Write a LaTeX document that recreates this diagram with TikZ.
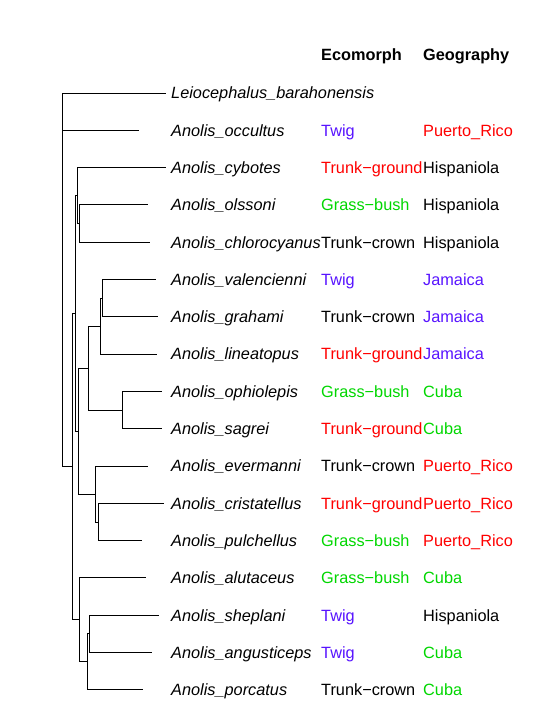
\documentclass[tikz,border=0pt]{standalone}
\usepackage{fontspec}
\setmainfont{Liberation Sans}
\usetikzlibrary{positioning}

\definecolor{twigblue}{RGB}{88,20,255}
\definecolor{ecored}{RGB}{255,0,0}
\definecolor{ecogreen}{RGB}{0,215,0}

\begin{document}
\begin{tikzpicture}[x=1pt, y=-1pt,
  branch/.style={line width=0.9pt, black},
  taxon/.style={anchor=west, inner sep=0pt, text height=11.6pt, text depth=0pt,
    font=\fontsize{16.3}{19}\selectfont\itshape},
  trait/.style={anchor=west, inner sep=0pt, text height=11.6pt, text depth=0pt,
    font=\fontsize{16.3}{19}\selectfont},
  colhead/.style={trait, font=\fontsize{16.3}{19}\selectfont\bfseries},
]
\fill[white] (0,0) rectangle (546,720);
\useasboundingbox (0,0) rectangle (546,720);

%--- Column heads ---
\node[colhead] (heco) at (321,55) {Ecomorph};
\node[colhead] (hgeo) at (423,55) {Geography};

%--- Tips of the tree ---
\coordinate (leio) at (166.0, 93.0);
\coordinate (occ)  at (139.0,130.3);
\coordinate (cyb)  at (166.0,167.6);
\coordinate (ols)  at (147.7,204.9);
\coordinate (chl)  at (150.0,242.2);
\coordinate (val)  at (155.7,279.5);
\coordinate (gra)  at (158.3,316.8);
\coordinate (lin)  at (156.7,354.1);
\coordinate (oph)  at (161.7,391.4);
\coordinate (sag)  at (161.7,428.7);
\coordinate (eve)  at (147.7,466.0);
\coordinate (cri)  at (164.0,503.3);
\coordinate (pul)  at (142.3,540.6);
\coordinate (alu)  at (145.7,577.9);
\coordinate (she)  at (159.0,615.2);
\coordinate (ang)  at (151.7,652.5);
\coordinate (por)  at (143.3,689.8);

%--- Inner nodes ---
\coordinate (root) at (62.3,279.8);
\coordinate (na)   at (72.3,466.6);
\coordinate (nb)   at (75.0,313.3);
\coordinate (nh)   at (77.3,195.6);
\coordinate (nh2)  at (79.0,223.6);
\coordinate (nd)   at (78.3,431.0);
\coordinate (ne)   at (88.3,368.1);
\coordinate (nj)   at (100.0,326.1);
\coordinate (nj2)  at (102.3,298.2);
\coordinate (ncu)  at (122.7,410.1);
\coordinate (np)   at (95.0,494.0);
\coordinate (np2)  at (98.3,522.0);
\coordinate (nc)   at (79.3,619.9);
\coordinate (nc2)  at (87.3,661.8);
\coordinate (nc3)  at (89.0,633.9);

%--- Branches ---
\draw[branch] (root) |- (leio);
\draw[branch] (root) |- (occ);
\draw[branch] (root) |- (na);
\draw[branch] (na) |- (nb);
\draw[branch] (na) |- (nc);
\draw[branch] (nb) |- (nh);
\draw[branch] (nb) |- (nd);
\draw[branch] (nh) |- (cyb);
\draw[branch] (nh) |- (nh2);
\draw[branch] (nh2) |- (ols);
\draw[branch] (nh2) |- (chl);
\draw[branch] (nd) |- (ne);
\draw[branch] (nd) |- (np);
\draw[branch] (ne) |- (nj);
\draw[branch] (ne) |- (ncu);
\draw[branch] (nj) |- (nj2);
\draw[branch] (nj) |- (lin);
\draw[branch] (nj2) |- (val);
\draw[branch] (nj2) |- (gra);
\draw[branch] (ncu) |- (oph);
\draw[branch] (ncu) |- (sag);
\draw[branch] (np) |- (eve);
\draw[branch] (np) |- (np2);
\draw[branch] (np2) |- (cri);
\draw[branch] (np2) |- (pul);
\draw[branch] (nc) |- (alu);
\draw[branch] (nc) |- (nc2);
\draw[branch] (nc2) |- (nc3);
\draw[branch] (nc2) |- (por);
\draw[branch] (nc3) |- (she);
\draw[branch] (nc3) |- (ang);

%--- Species names ---
\node[taxon] (lleio) at (171, 93.0) {Leiocephalus\_barahonensis};
\node[taxon] (locc)  at (171,130.3) {Anolis\_occultus};
\node[taxon] (lcyb)  at (171,167.6) {Anolis\_cybotes};
\node[taxon] (lols)  at (171,204.9) {Anolis\_olssoni};
\node[taxon] (lchl)  at (171,242.2) {Anolis\_chlorocyanus};
\node[taxon] (lval)  at (171,279.5) {Anolis\_valencienni};
\node[taxon] (lgra)  at (171,316.8) {Anolis\_grahami};
\node[taxon] (llin)  at (171,354.1) {Anolis\_lineatopus};
\node[taxon] (loph)  at (171,391.4) {Anolis\_ophiolepis};
\node[taxon] (lsag)  at (171,428.7) {Anolis\_sagrei};
\node[taxon] (leve)  at (171,466.0) {Anolis\_evermanni};
\node[taxon] (lcri)  at (171,503.3) {Anolis\_cristatellus};
\node[taxon] (lpul)  at (171,540.6) {Anolis\_pulchellus};
\node[taxon] (lalu)  at (171,577.9) {Anolis\_alutaceus};
\node[taxon] (lshe)  at (171,615.2) {Anolis\_sheplani};
\node[taxon] (lang)  at (171,652.5) {Anolis\_angusticeps};
\node[taxon] (lpor)  at (171,689.8) {Anolis\_porcatus};

%--- Ecomorph column ---
\node[trait, twigblue] (eocc) at (321,130.3) {Twig};
\node[trait, ecored]   (ecyb) at (321,167.6) {Trunk−ground};
\node[trait, ecogreen] (eols) at (321,204.9) {Grass−bush};
\node[trait]           (echl) at (321,242.2) {Trunk−crown};
\node[trait, twigblue] (eval) at (321,279.5) {Twig};
\node[trait]           (egra) at (321,316.8) {Trunk−crown};
\node[trait, ecored]   (elin) at (321,354.1) {Trunk−ground};
\node[trait, ecogreen] (eoph) at (321,391.4) {Grass−bush};
\node[trait, ecored]   (esag) at (321,428.7) {Trunk−ground};
\node[trait]           (eeve) at (321,466.0) {Trunk−crown};
\node[trait, ecored]   (ecri) at (321,503.3) {Trunk−ground};
\node[trait, ecogreen] (epul) at (321,540.6) {Grass−bush};
\node[trait, ecogreen] (ealu) at (321,577.9) {Grass−bush};
\node[trait, twigblue] (eshe) at (321,615.2) {Twig};
\node[trait, twigblue] (eang) at (321,652.5) {Twig};
\node[trait]           (epor) at (321,689.8) {Trunk−crown};

%--- Geography column ---
\node[trait, ecored]   (gocc) at (423,130.3) {Puerto\_Rico};
\node[trait]           (gcyb) at (423,167.6) {Hispaniola};
\node[trait]           (gols) at (423,204.9) {Hispaniola};
\node[trait]           (gchl) at (423,242.2) {Hispaniola};
\node[trait, twigblue] (gval) at (423,279.5) {Jamaica};
\node[trait, twigblue] (ggra) at (423,316.8) {Jamaica};
\node[trait, twigblue] (glin) at (423,354.1) {Jamaica};
\node[trait, ecogreen] (goph) at (423,391.4) {Cuba};
\node[trait, ecogreen] (gsag) at (423,428.7) {Cuba};
\node[trait, ecored]   (geve) at (423,466.0) {Puerto\_Rico};
\node[trait, ecored]   (gcri) at (423,503.3) {Puerto\_Rico};
\node[trait, ecored]   (gpul) at (423,540.6) {Puerto\_Rico};
\node[trait, ecogreen] (galu) at (423,577.9) {Cuba};
\node[trait]           (gshe) at (423,615.2) {Hispaniola};
\node[trait, ecogreen] (gang) at (423,652.5) {Cuba};
\node[trait, ecogreen] (gpor) at (423,689.8) {Cuba};

\end{tikzpicture}
\end{document}
